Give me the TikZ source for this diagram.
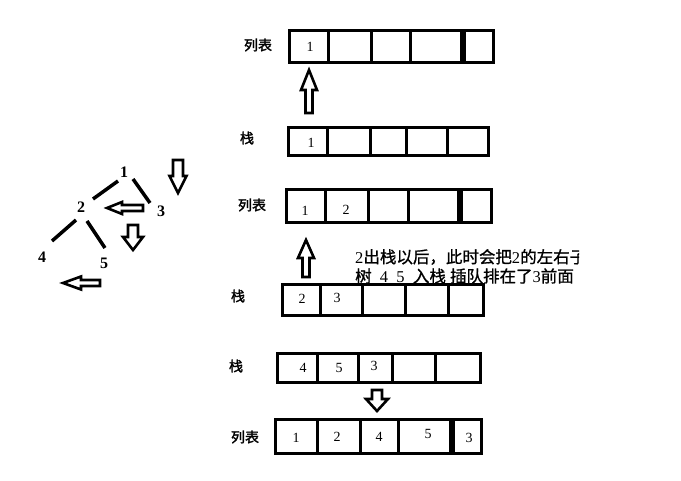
\documentclass[tikz,border=0pt]{standalone}
\usepackage{fontspec}
\setmainfont{Liberation Serif}
\newfontfamily\cjk[FakeBold=1]{Noto Sans CJK SC}
\newfontfamily\cjkb[FakeBold=2]{Noto Sans CJK SC}
\begin{document}
\begin{tikzpicture}[x=1pt,y=-1pt,
  boxline/.style={line width=3pt, line join=miter},
  thickdiv/.style={line width=5.5pt},
  treeline/.style={line width=3.5pt},
  arrowline/.style={line width=2.6pt, fill=white, line join=miter},
  lbl/.style={font=\cjkb\fontsize{14}{14}\selectfont, inner sep=0pt},
  num/.style={font=\fontsize{14}{14}\selectfont, inner sep=0pt},
  tnum/.style={font=\bfseries\fontsize{16}{16}\selectfont, inner sep=0pt},
  note/.style={font=\fontsize{16.5}{16.5}\selectfont, inner sep=0pt, anchor=west},
  pics/harrow/.style n args={4}{code={
    \draw[arrowline] (0,-#4) -- (#1-#2,-#4) -- (#1-#2,-#3) -- (#1,0) -- (#1-#2,#3) -- (#1-#2,#4) -- (0,#4) -- cycle;}}
]
\useasboundingbox (0,0) rectangle (681,481);

% ---------- tree ----------
\node[tnum] (t1) at (124,172) {1};
\node[tnum] (t2) at (81,207) {2};
\node[tnum] (t3) at (161,211) {3};
\node[tnum] (t4) at (42,257) {4};
\node[tnum] (t5) at (104,263) {5};
\draw[treeline] (118,181) -- (93,199);
\draw[treeline] (133,179) -- (150,203);
\draw[treeline] (76,220) -- (52,241);
\draw[treeline] (87,221) -- (105,248);
\pic[rotate=-90] at (178,160) {harrow={33}{17}{8.5}{5}};
\pic[rotate=180] at (143,208) {harrow={36}{15}{6}{3}};
\pic[rotate=-90] at (133,225) {harrow={25}{13}{10}{5}};
\pic[rotate=180] at (100,283) {harrow={37}{18}{6.5}{3}};

% ---------- list 1 ----------
\node[lbl] (l1) at (258,45) {列表};
\draw[boxline] (289,31) rectangle (493,63);
\draw[boxline] (328,31) -- (328,63) (371,31) -- (371,63) (410,31) -- (410,63);
\draw[thickdiv] (463,31) -- (463,63);
\node[num] (l1a) at (310,47) {1};

\pic[rotate=90] at (309,113) {harrow={43}{20}{8}{3.5}};

% ---------- stack 1 ----------
\node[lbl] (s1) at (247,138) {栈};
\draw[boxline] (288,128) rectangle (488,156);
\draw[boxline] (327,128) -- (327,156) (370,128) -- (370,156) (406,128) -- (406,156) (447,128) -- (447,156);
\node[num] (s1a) at (311,143) {1};

% ---------- list 2 ----------
\node[lbl] (l2) at (252,205) {列表};
\draw[boxline] (286,190) rectangle (491,223);
\draw[boxline] (325,190) -- (325,223) (368,190) -- (368,223) (408,190) -- (408,223);
\draw[thickdiv] (460,190) -- (460,223);
\node[num] (l2a) at (305,211) {1};
\node[num] (l2b) at (346,210) {2};

\pic[rotate=90] at (306,277) {harrow={37}{18}{8}{3.5}};

% ---------- note ----------
\begin{scope}
\clip (340,240) rectangle (579,290);
\node[note] (n1) at (355,257) {2{\cjk 出栈以后，此时会把}2{\cjk 的左右子}};
\node[note] (n2) at (355,276) {{\cjk 树}\ \ 4\ \ 5\ \ {\cjk 入栈}\ {\cjk 插队排在了}3{\cjk 前面}};
\end{scope}

% ---------- stack 2 ----------
\node[lbl] (s2) at (238,296) {栈};
\draw[boxline] (282,285) rectangle (483,316);
\draw[boxline] (320,285) -- (320,316) (362,285) -- (362,316) (405,285) -- (405,316) (448,285) -- (448,316);
\node[num] (s2a) at (302,299) {2};
\node[num] (s2b) at (337,298) {3};

% ---------- stack 3 ----------
\node[lbl] (s3) at (236,366) {栈};
\draw[boxline] (277,354) rectangle (480,383);
\draw[boxline] (317,354) -- (317,383) (358,354) -- (358,383) (392,354) -- (392,383) (435,354) -- (435,383);
\node[num] (s3a) at (303,368) {4};
\node[num] (s3b) at (339,368) {5};
\node[num] (s3c) at (374,366) {3};

\pic[rotate=-90] at (377,390) {harrow={21}{12}{11}{5}};

% ---------- list 3 ----------
\node[lbl] (l3) at (245,437) {列表};
\draw[boxline] (275,420) rectangle (481,453);
\draw[boxline] (317,420) -- (317,453) (360,420) -- (360,453) (398,420) -- (398,453);
\draw[thickdiv] (452,420) -- (452,453);
\node[num] (l3a) at (296,438) {1};
\node[num] (l3b) at (337,437) {2};
\node[num] (l3c) at (379,437) {4};
\node[num] (l3d) at (428,434) {5};
\node[num] (l3e) at (469,438) {3};
\end{tikzpicture}
\end{document}
